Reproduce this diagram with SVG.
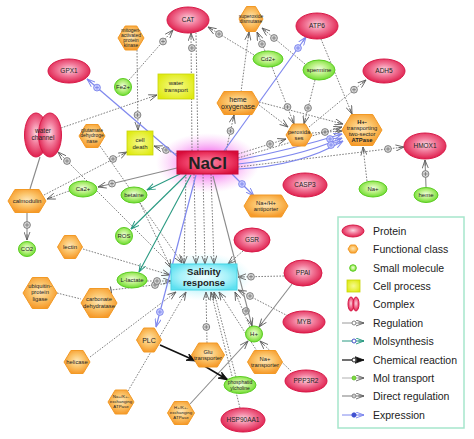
<svg xmlns="http://www.w3.org/2000/svg" width="474" height="439" viewBox="0 0 474 439">
<defs>
<radialGradient id="gP" cx="50%" cy="45%" r="55%"><stop offset="0" stop-color="#fbd6e0"/><stop offset="0.45" stop-color="#f27b9b"/><stop offset="1" stop-color="#df1f4d"/></radialGradient>
<radialGradient id="gS" cx="50%" cy="45%" r="55%"><stop offset="0" stop-color="#f0ffe0"/><stop offset="0.5" stop-color="#b8f080"/><stop offset="1" stop-color="#6edc30"/></radialGradient>
<radialGradient id="gH" cx="50%" cy="45%" r="55%"><stop offset="0" stop-color="#fde6b8"/><stop offset="0.5" stop-color="#fbc46a"/><stop offset="1" stop-color="#f69a2a"/></radialGradient>
<radialGradient id="gY" cx="50%" cy="50%" r="60%"><stop offset="0" stop-color="#f6fa90"/><stop offset="1" stop-color="#dfea10"/></radialGradient>
<radialGradient id="gN" cx="50%" cy="50%" r="60%"><stop offset="0" stop-color="#f88aa6"/><stop offset="0.6" stop-color="#ee3c66"/><stop offset="1" stop-color="#d80c3a"/></radialGradient>
<radialGradient id="gNglow" cx="50%" cy="50%" r="50%"><stop offset="0.35" stop-color="#f04ce8" stop-opacity="0.75"/><stop offset="1" stop-color="#f8a0f4" stop-opacity="0"/></radialGradient>
<radialGradient id="gC" cx="50%" cy="50%" r="60%"><stop offset="0" stop-color="#f0feff"/><stop offset="0.6" stop-color="#a8f2fa"/><stop offset="1" stop-color="#5ee0f0"/></radialGradient>
<radialGradient id="gCglow" cx="50%" cy="50%" r="50%"><stop offset="0.4" stop-color="#90ecf8" stop-opacity="0.7"/><stop offset="1" stop-color="#c0f6fc" stop-opacity="0"/></radialGradient>
<marker id="ag" viewBox="0 0 10 8" refX="9.5" refY="4" markerWidth="9" markerHeight="7" markerUnits="userSpaceOnUse" orient="auto"><path d="M0,0.5 L9.5,4 L0,7.5 M3,4 L9.5,4" fill="none" stroke="#606060" stroke-width="1"/></marker>
<marker id="ab" viewBox="0 0 10 8" refX="9.5" refY="4" markerWidth="9" markerHeight="7" markerUnits="userSpaceOnUse" orient="auto"><path d="M0,0.5 L9.5,4 L0,7.5 M3,4 L9.5,4" fill="none" stroke="#7f88ee" stroke-width="1.1"/></marker>
<marker id="at" viewBox="0 0 10 8" refX="9.5" refY="4" markerWidth="9" markerHeight="7" markerUnits="userSpaceOnUse" orient="auto"><path d="M0,0.5 L9.5,4 L0,7.5 M3,4 L9.5,4" fill="none" stroke="#2a9a82" stroke-width="1.1"/></marker>
<marker id="ak" viewBox="0 0 10 8" refX="9.5" refY="4" markerWidth="10" markerHeight="8" markerUnits="userSpaceOnUse" orient="auto"><path d="M0,0.5 L9.5,4 L0,7.5 L3,4 Z" fill="#111" stroke="#111" stroke-width="0.8"/></marker>
<g id="rg"><circle r="3.4" fill="#d8d8d8" stroke="#6a6a6a" stroke-width="0.8"/><path d="M-2,0 H2 M0,-2 V2" stroke="#6a6a6a" stroke-width="0.7"/></g>
<g id="rb"><circle r="3.4" fill="#c8ccff" stroke="#6f78e8" stroke-width="0.8"/><path d="M-2,0 H2 M0,-2 V2" stroke="#6f78e8" stroke-width="0.7"/></g>
</defs>
<style>
.d{fill:none;stroke:#707070;stroke-width:0.9;stroke-dasharray:1.6 1.4}
.b{fill:none;stroke:#7f88ee;stroke-width:1.2}
.t{fill:none;stroke:#2a9a82;stroke-width:1.1}
.g{fill:none;stroke:#8a8a8a;stroke-width:1.1}
.k{fill:none;stroke:#111;stroke-width:1.6}
.pr{fill:url(#gP);stroke:#d81a48;stroke-width:1}
.sm{fill:url(#gS);stroke:#5ccc22;stroke-width:1}
.hx{fill:url(#gH);stroke:#f29a26;stroke-width:1}
.cp{fill:url(#gY);stroke:#c8d40c;stroke-width:0.8}
text{font-family:"Liberation Sans",Arial,sans-serif;fill:#222;text-anchor:middle}
.lp{font-size:6.5px}
.ls{font-size:6px}
.lh{font-size:5.8px}
.lt{font-size:5px}
.lg{font-size:10.5px;text-anchor:start;fill:#222}
</style>
<rect width="474" height="439" fill="#ffffff"/>
<!-- glows -->
<ellipse cx="208" cy="163" rx="52" ry="30" fill="url(#gNglow)"/>
<ellipse cx="204" cy="277" rx="48" ry="24" fill="url(#gCglow)"/>
<g id="connectors">
<!-- dotted regulation -->
<line class="d" x1="137" y1="50" x2="138" y2="130" marker-end="url(#ag)"/><use href="#rg" x="137.5" y="115"/>
<line class="d" x1="129" y1="80" x2="173" y2="30" marker-end="url(#ag)"/><use href="#rg" x="163" y="41.5"/>
<line class="d" x1="61" y1="128" x2="157" y2="95" marker-end="url(#ag)"/>
<line class="d" x1="177" y1="154" x2="154" y2="146" marker-end="url(#ag)"/><use href="#rg" x="166" y="150"/>
<line class="d" x1="44" y1="195" x2="127" y2="152" marker-end="url(#ag)"/><use href="#rg" x="113" y="159"/>
<line class="d" x1="69" y1="191" x2="47" y2="199" marker-end="url(#ag)"/>
<line class="d" x1="172" y1="266" x2="58" y2="152" marker-end="url(#ag)"/><use href="#rg" x="67" y="161"/>
<line class="d" x1="100" y1="146" x2="182" y2="263" marker-end="url(#ag)"/>
<line class="d" x1="83" y1="249" x2="170" y2="275" marker-end="url(#ag)"/>
<line class="d" x1="57" y1="293" x2="81" y2="299"/>
<line class="d" x1="171" y1="283" x2="111" y2="290"/><use href="#rg" x="155" y="285"/><path d="M110.4,286.5 L111.6,293.5" stroke="#555" stroke-width="1.1"/>
<line class="d" x1="90" y1="357" x2="176" y2="292" marker-end="url(#ag)"/>
<line class="d" x1="128" y1="391" x2="186" y2="292" marker-end="url(#ag)"/>
<line class="d" x1="207" y1="343" x2="206" y2="292" marker-end="url(#ag)"/><use href="#rg" x="206.3" y="327"/>
<line class="d" x1="250" y1="327" x2="235" y2="292" marker-end="url(#ag)"/><use href="#rg" x="246" y="311"/>
<line class="d" x1="288" y1="316" x2="238" y2="290" marker-end="url(#ag)"/><use href="#rg" x="250" y="296"/>
<line class="d" x1="236" y1="377" x2="214" y2="292" marker-end="url(#ag)"/>
<line class="d" x1="240" y1="408" x2="211" y2="292" marker-end="url(#ag)"/>
<line class="d" x1="257" y1="351" x2="219" y2="292" marker-end="url(#ag)"/>
<line class="d" x1="243" y1="251" x2="228" y2="264" marker-end="url(#ag)"/>
<line class="d" x1="284" y1="276" x2="238" y2="277" marker-end="url(#ag)"/><use href="#rg" x="251" y="276.7"/>
<line class="d" x1="291" y1="371" x2="260" y2="341" marker-end="url(#ag)"/>
<line class="d" x1="186" y1="174" x2="184" y2="264" marker-end="url(#ag)"/>
<line class="d" x1="194" y1="174" x2="196" y2="264" marker-end="url(#ag)"/>
<line class="d" x1="203" y1="174" x2="205" y2="264" marker-end="url(#ag)"/>
<line class="d" x1="211" y1="174" x2="214" y2="264" marker-end="url(#ag)"/>
<line class="d" x1="140" y1="203" x2="171" y2="268" marker-end="url(#ag)"/>
<line class="d" x1="147" y1="281" x2="171" y2="281" marker-end="url(#ag)"/><use href="#rg" x="157" y="281"/>
<line class="d" x1="192" y1="151" x2="191" y2="33" marker-end="url(#ag)"/><use href="#rg" x="191.9" y="48"/>
<line class="d" x1="198" y1="151" x2="196" y2="33"/>
<line class="d" x1="254" y1="55" x2="208" y2="27" marker-end="url(#ag)"/><use href="#rg" x="219" y="34"/>
<line class="d" x1="265" y1="51" x2="257" y2="32" marker-end="url(#ag)"/><use href="#rg" x="262" y="44"/>
<line class="d" x1="305" y1="64" x2="262" y2="28" marker-end="url(#ag)"/><use href="#rg" x="274" y="38"/>
<line class="d" x1="241" y1="92" x2="249" y2="32" marker-end="url(#ag)"/>
<line class="d" x1="226" y1="151" x2="234" y2="115" marker-end="url(#ag)"/><use href="#rg" x="230.5" y="131"/>
<line class="d" x1="259" y1="105" x2="288" y2="127" marker-end="url(#ag)"/>
<line class="d" x1="259" y1="102" x2="343" y2="124" marker-end="url(#ag)"/>
<line class="d" x1="272" y1="67" x2="294" y2="124" marker-end="url(#ag)"/><use href="#rg" x="287.5" y="107"/>
<line class="d" x1="315" y1="80" x2="304" y2="124" marker-end="url(#ag)"/><use href="#rg" x="308" y="108"/>
<line class="d" x1="309" y1="127" x2="366" y2="80" marker-end="url(#ag)"/><use href="#rg" x="354" y="89.7"/>
<line class="d" x1="321" y1="39" x2="352" y2="114" marker-end="url(#ag)"/>
<line class="d" x1="312" y1="133" x2="342" y2="131" marker-end="url(#ag)"/><use href="#rg" x="325" y="132"/>
<line class="d" x1="238" y1="154" x2="286" y2="139" marker-end="url(#ag)"/><use href="#rg" x="270" y="144"/>
<line class="d" x1="238" y1="158" x2="342" y2="127" marker-end="url(#ag)"/>
<line class="d" x1="238" y1="167" x2="404" y2="147" marker-end="url(#ag)"/><use href="#rg" x="388" y="149"/>
<line class="d" x1="367" y1="181" x2="363" y2="147" marker-end="url(#ag)"/>
<!-- expression (blue) -->
<line class="b" x1="178" y1="157" x2="87" y2="79" marker-end="url(#ab)"/><use href="#rb" x="97" y="87.6"/>
<line class="b" x1="224" y1="151" x2="306" y2="37" marker-end="url(#ab)"/><use href="#rb" x="298" y="48"/>
<line class="b" x1="232" y1="174" x2="254" y2="196" marker-end="url(#ab)"/><use href="#rb" x="242" y="184"/>
<line class="b" x1="196" y1="175" x2="156" y2="327" marker-end="url(#ab)"/><use href="#rb" x="159.9" y="312"/>
<path class="b" d="M238,160 Q290,150 342,134" marker-end="url(#ab)"/>
<path class="b" d="M238,164 Q295,158 342,138" marker-end="url(#ab)"/>
<path class="b" d="M238,169 Q300,166 343,141" marker-end="url(#ab)"/>
<use href="#rb" x="330" y="139"/><use href="#rb" x="331" y="145"/>
<!-- molsynthesis (teal) -->
<line class="t" x1="180" y1="174" x2="147" y2="190" marker-end="url(#at)"/>
<line class="t" x1="186" y1="175" x2="131" y2="229" marker-end="url(#at)"/>
<line class="t" x1="191" y1="175" x2="139" y2="272" marker-end="url(#at)"/>
<!-- direct regulation (gray solid) -->
<line class="g" x1="177" y1="168" x2="98" y2="187" marker-end="url(#ag)"/><use href="#rg" x="112" y="183.6"/>
<line class="g" x1="40" y1="157" x2="30" y2="189"/>
<line class="g" x1="27" y1="213" x2="27" y2="240" marker-end="url(#ag)"/><use href="#rg" x="27" y="225"/>
<line class="g" x1="426" y1="187" x2="425" y2="160" marker-end="url(#ag)"/><use href="#rg" x="425.5" y="174"/>
<line class="g" x1="213" y1="176" x2="252" y2="326" marker-end="url(#ag)"/>
<line class="g" x1="292" y1="284" x2="259" y2="327" marker-end="url(#ag)"/>
<line class="g" x1="190" y1="404" x2="248" y2="341" marker-end="url(#ag)"/>
<!-- chemical reaction (black) -->
<line class="k" x1="160" y1="345" x2="196" y2="361" marker-end="url(#ak)"/>
<line class="k" x1="196" y1="361" x2="228" y2="380" marker-end="url(#ak)"/>
</g>
<!-- proteins -->
<g id="CAT"><ellipse class="pr" cx="188" cy="20" rx="21" ry="13"/><text class="lp" x="188" y="22.3">CAT</text></g>
<g id="ATP6"><ellipse class="pr" cx="317" cy="26" rx="21" ry="13"/><text class="lp" x="317" y="28.3">ATP6</text></g>
<g id="GPX1"><ellipse class="pr" cx="69" cy="71" rx="21" ry="12"/><text class="lp" x="69" y="73.3">GPX1</text></g>
<g id="ADH5"><ellipse class="pr" cx="384" cy="71" rx="21" ry="12"/><text class="lp" x="384" y="73.3">ADH5</text></g>
<g id="HMOX1"><ellipse class="pr" cx="425" cy="146" rx="21" ry="13"/><text class="lp" x="425" y="148.3">HMOX1</text></g>
<g id="CASP3"><ellipse class="pr" cx="305" cy="185" rx="22" ry="12"/><text class="lp" x="305" y="187.3">CASP3</text></g>
<g id="GSR"><ellipse class="pr" cx="252" cy="240" rx="18" ry="12"/><text class="lp" x="252" y="242.3">GSR</text></g>
<g id="PPAI"><ellipse class="pr" cx="303" cy="273" rx="19" ry="13"/><text class="lp" x="303" y="275.3">PPAI</text></g>
<g id="MYB"><ellipse class="pr" cx="304" cy="322" rx="21" ry="11"/><text class="lp" x="304" y="324.3">MYB</text></g>
<g id="PPP3R2"><ellipse class="pr" cx="306" cy="381" rx="21" ry="11"/><text class="lp" x="306" y="383.3">PPP3R2</text></g>
<g id="HSP90AA1"><ellipse class="pr" cx="243" cy="420" rx="22" ry="12"/><text class="lp" x="243" y="422.3">HSP90AA1</text></g>
<!-- small molecules -->
<g id="Fe2"><ellipse class="sm" cx="123" cy="87" rx="8.5" ry="8.5"/><text class="ls" x="123" y="89">Fe2+</text></g>
<g id="Cd2"><ellipse class="sm" cx="268" cy="59" rx="15" ry="8"/><text class="ls" x="268" y="61">Cd2+</text></g>
<g id="spermine"><ellipse class="sm" cx="319" cy="70" rx="16" ry="10"/><text class="ls" x="319" y="72">spermine</text></g>
<g id="Ca2"><ellipse class="sm" cx="83" cy="189" rx="14" ry="8"/><text class="ls" x="83" y="191">Ca2+</text></g>
<g id="betaine"><ellipse class="sm" cx="134" cy="195" rx="13" ry="8"/><text class="ls" x="134" y="197">betaine</text></g>
<g id="ROS"><ellipse class="sm" cx="124" cy="236" rx="8.5" ry="8.5"/><text class="ls" x="124" y="238">ROS</text></g>
<g id="CO2"><ellipse class="sm" cx="27" cy="249" rx="8.5" ry="7.5"/><text class="ls" x="27" y="251">CO2</text></g>
<g id="Llactate"><ellipse class="sm" cx="132" cy="280" rx="15" ry="8"/><text class="ls" x="132" y="282">L-lactate</text></g>
<g id="Na"><ellipse class="sm" cx="373" cy="189" rx="14" ry="8"/><text class="ls" x="373" y="191">Na+</text></g>
<g id="heme"><ellipse class="sm" cx="426" cy="195" rx="12" ry="7.5"/><text class="ls" x="426" y="197">heme</text></g>
<g id="H"><ellipse class="sm" cx="254" cy="334" rx="8.5" ry="8"/><text class="ls" x="254" y="336">H+</text></g>
<g id="phosphatidylcholine"><ellipse class="sm" cx="240" cy="385" rx="16" ry="8.5"/><text class="lt" x="240" y="383.5">phosphatid</text><text class="lt" x="240" y="389.5">ylcholine</text></g>
<!-- functional classes -->
<g id="MAPK"><polygon class="hx" points="118,38 125.2,26 136.8,26 144,38 136.8,50 125.2,50"/><text class="lt" x="131" y="32">mitogen-</text><text class="lt" x="131" y="37">activated</text><text class="lt" x="131" y="42">protein</text><text class="lt" x="131" y="47">kinase</text></g>
<g id="SOD"><polygon class="hx" points="239,19 246.5,6.5 255.5,6.5 263,19 255.5,31.5 246.5,31.5"/><text class="lt" x="251" y="17.5">superoxide</text><text class="lt" x="251" y="23">dismutase</text></g>
<g id="hemeoxygenase"><polygon class="hx" points="217,103 223.9,91.5 252.1,91.5 259,103 252.1,114.5 223.9,114.5"/><text x="238" y="101.5" font-size="7">heme</text><text x="238" y="109" font-size="7">oxygenase</text></g>
<g id="peroxidases"><polygon class="hx" points="286,135 292.6,124 305.4,124 312,135 305.4,146 292.6,146"/><text class="lh" x="299" y="133.5">peroxida</text><text class="lh" x="299" y="140">ses</text></g>
<g id="HATPase"><polygon class="hx" points="342,130 351.3,114.5 372.7,114.5 382,130 372.7,145.5 351.3,145.5"/><text class="lh" x="362" y="124" font-weight="bold">H+-</text><text class="lh" x="362" y="130">transporting</text><text class="lh" x="362" y="136">two-sector</text><text class="lh" x="362" y="142" font-weight="bold">ATPase</text></g>
<g id="glutamatedehydrogenase"><polygon class="hx" points="79,136 85.9,124.5 98.1,124.5 105,136 98.1,147.5 85.9,147.5"/><text class="lt" x="92" y="131.5">glutamate</text><text class="lt" x="92" y="137">dehydroge</text><text class="lt" x="92" y="142.5">nase</text></g>
<g id="calmodulin"><polygon class="hx" points="8,201 14.9,189.5 39.1,189.5 46,201 39.1,212.5 14.9,212.5"/><text class="ls" x="27" y="203">calmodulin</text></g>
<g id="lectin"><polygon class="hx" points="57.5,247 64.4,235.5 75.6,235.5 82.5,247 75.6,258.5 64.4,258.5"/><text class="ls" x="70" y="249">lectin</text></g>
<g id="ubiquitin"><polygon class="hx" points="23,293 32.3,277.5 47.7,277.5 57,293 47.7,308.5 32.3,308.5"/><text class="lh" x="40" y="287.5">ubiquitin-</text><text class="lh" x="40" y="294">protein</text><text class="lh" x="40" y="300.5">ligase</text></g>
<g id="carbonate"><polygon class="hx" points="81,303 89.7,288.5 108.3,288.5 117,303 108.3,317.5 89.7,317.5"/><text class="lh" x="99" y="301">carbonate</text><text class="lh" x="99" y="307.5">dehydratase</text></g>
<g id="PLC"><polygon class="hx" points="136.5,340 143.7,328 154.3,328 161.5,340 154.3,352 143.7,352"/><text x="149" y="342.5" font-size="7">PLC</text></g>
<g id="helicase"><polygon class="hx" points="64,362 70.9,350.5 83.1,350.5 90,362 83.1,373.5 70.9,373.5"/><text class="lh" x="77" y="364">helicase</text></g>
<g id="NaKATPase"><polygon class="hx" points="108,402 115.2,390 126.8,390 134,402 126.8,414 115.2,414"/><text x="121" y="397.5" font-size="4.4">Na+/K+-</text><text x="121" y="402.5" font-size="4.4">exchanging</text><text x="121" y="407.5" font-size="4.4">ATPase</text></g>
<g id="Glutransporter"><polygon class="hx" points="191.5,355 198.7,343 217.3,343 224.5,355 217.3,367 198.7,367"/><text class="lh" x="208" y="353.5">Glu</text><text class="lh" x="208" y="360">transporter</text></g>
<g id="Natransporter"><polygon class="hx" points="247.5,362 254.4,350.5 275.6,350.5 282.5,362 275.6,373.5 254.4,373.5"/><text class="lh" x="265" y="360.5">Na+</text><text class="lh" x="265" y="367">transporter</text></g>
<g id="HKATPase"><polygon class="hx" points="167.5,413 174.4,401.5 187.6,401.5 194.5,413 187.6,424.5 174.4,424.5"/><text x="181" y="408.5" font-size="4.4">H+/K+-</text><text x="181" y="413.5" font-size="4.4">exchanging</text><text x="181" y="418.5" font-size="4.4">ATPase</text></g>
<g id="NaHantiporter"><polygon class="hx" points="244,206 250.6,195 281.4,195 288,206 281.4,217 250.6,217"/><text class="lh" x="266" y="204.5">Na+/H+</text><text class="lh" x="266" y="211">antiporter</text></g>
<!-- cell processes -->
<g id="watertransport"><rect class="cp" x="158" y="74" width="36" height="25"/><text class="ls" x="176" y="85">water</text><text class="ls" x="176" y="92">transport</text></g>
<g id="celldeath"><rect class="cp" x="127" y="131" width="26" height="24"/><text class="ls" x="140" y="141.5">cell</text><text class="ls" x="140" y="148.5">death</text></g>
<!-- complex -->
<g id="waterchannel"><ellipse class="pr" cx="36" cy="135" rx="11.5" ry="22"/><ellipse class="pr" cx="50" cy="135" rx="11.5" ry="22"/><text class="lp" x="43" y="133">water</text><text class="lp" x="43" y="140">channel</text></g>
<!-- NaCl -->
<g id="NaCl"><rect x="177" y="151" width="61" height="23" fill="url(#gN)" stroke="#c80a36" stroke-width="1"/><text x="207.5" y="168.5" font-size="17" font-weight="bold" fill="#1a1a1a">NaCl</text></g>
<!-- Salinity response -->
<g id="Salinity"><rect x="171" y="264" width="66" height="26" fill="url(#gC)" stroke="#48d4e4" stroke-width="1"/><text x="204" y="275" font-size="9.5" font-weight="bold" fill="#1a1a1a">Salinity</text><text x="204" y="286" font-size="9.5" font-weight="bold" fill="#1a1a1a">response</text></g>
<!-- legend -->
<g id="legend">
<rect x="338" y="217" width="126" height="211" fill="#fff" stroke="#a6e6cc" stroke-width="1.5"/>
<ellipse class="pr" cx="353" cy="231" rx="11" ry="6"/>
<polygon class="hx" points="348,249 350.5,245 355.5,245 358,249 355.5,253 350.5,253"/>
<circle class="sm" cx="353" cy="268" r="3.3"/>
<rect class="cp" x="347" y="280" width="13" height="12"/>
<ellipse class="pr" cx="351" cy="304" rx="3" ry="7"/><ellipse class="pr" cx="356" cy="304" rx="3" ry="7"/>
<line x1="342" y1="323" x2="364" y2="323" stroke="#9a9a9a" stroke-width="1" marker-end="url(#ag)"/><circle cx="354" cy="323" r="2" fill="#fff" stroke="#666" stroke-width="0.8"/>
<line x1="342" y1="341" x2="364" y2="341" stroke="#2a9a82" stroke-width="1" marker-end="url(#at)"/><circle cx="354" cy="341" r="2" fill="#fff" stroke="#3040c0" stroke-width="0.9"/>
<line x1="342" y1="360" x2="364" y2="360" stroke="#111" stroke-width="1.2" marker-end="url(#ak)"/><circle cx="354" cy="360" r="2" fill="#fff" stroke="#111" stroke-width="0.9"/>
<line x1="342" y1="378" x2="364" y2="378" stroke="#b0b0b0" stroke-width="1" marker-end="url(#ag)"/><circle cx="354" cy="378" r="2" fill="#7edc40" stroke="#5cbc22" stroke-width="0.8"/>
<line x1="342" y1="396" x2="364" y2="396" stroke="#888" stroke-width="1.1" marker-end="url(#ag)"/><circle cx="354" cy="396" r="2" fill="#ccc" stroke="#777" stroke-width="0.8"/>
<line x1="342" y1="415" x2="364" y2="415" stroke="#7f88ee" stroke-width="1" marker-end="url(#ab)"/><circle cx="354" cy="415" r="2.2" fill="#4050d0" stroke="#4050d0" stroke-width="0.8"/>
<text class="lg" x="373" y="235">Protein</text>
<text class="lg" x="373" y="253">Functional class</text>
<text class="lg" x="373" y="272">Small molecule</text>
<text class="lg" x="373" y="290">Cell process</text>
<text class="lg" x="373" y="308">Complex</text>
<text class="lg" x="373" y="327">Regulation</text>
<text class="lg" x="373" y="345">Molsynthesis</text>
<text class="lg" x="373" y="364">Chemical reaction</text>
<text class="lg" x="373" y="382">Mol transport</text>
<text class="lg" x="373" y="400">Direct regulation</text>
<text class="lg" x="373" y="419">Expression</text>
</g>
</svg>
